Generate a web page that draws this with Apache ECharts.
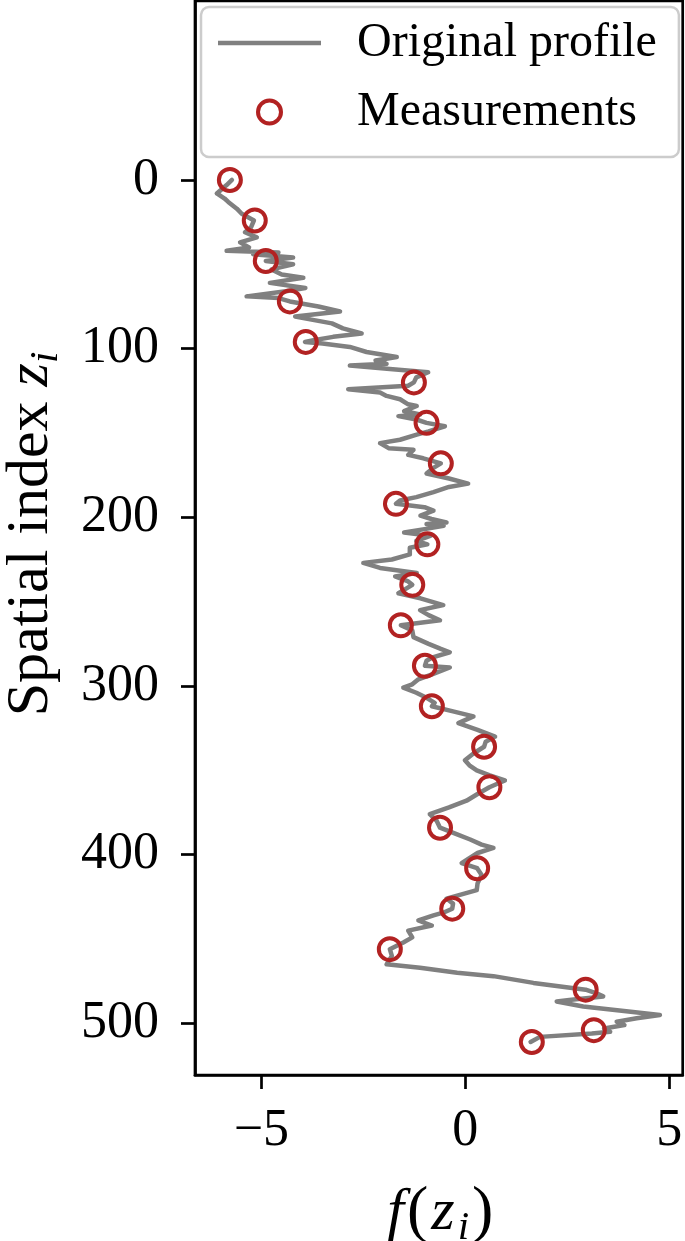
<!DOCTYPE html>
<html>
<head>
<meta charset="utf-8">
<script src="https://cdn.jsdelivr.net/npm/echarts@6/dist/echarts.min.js"></script>
<style>
  html, body { margin: 0; padding: 0; background: #fff; }
  #chart { width: 685px; height: 1241px; }
</style>
</head>
<body>
<div id="chart"></div>
<script>
// traced profile: spatial index z and value f(z)
const profileZ = [0, 3, 8, 11, 13, 17, 20, 24, 28, 31, 34, 37, 40, 42, 43, 44, 46, 48, 50, 53, 56, 58, 61, 64, 66, 69, 70, 72, 75, 78, 81, 85, 88, 91, 93, 95, 96, 97, 99, 102, 105, 107, 109, 110, 112, 114, 117, 120, 122, 124, 126, 128, 130, 133, 134, 137, 139, 140, 142, 144, 146, 149, 151, 154, 156, 159, 160, 163, 165, 168, 171, 174, 177, 180, 182, 185, 188, 190, 192, 194, 196, 199, 201, 203, 204, 205, 207, 209, 211, 214, 216, 218, 222, 225, 227, 230, 233, 235, 238, 240, 243, 245, 248, 252, 255, 258, 261, 264, 267, 271, 275, 278, 280, 283, 285, 288, 289, 293, 296, 299, 301, 304, 307, 310, 312, 315, 318, 322, 326, 330, 333, 336, 340, 344, 347, 350, 353, 356, 360, 364, 368, 372, 376, 380, 384, 388, 391, 394, 396, 399, 402, 405, 408, 412, 417, 421, 426, 429, 432, 434, 436, 439, 442, 445, 449, 452, 456, 460, 465, 467, 470, 472, 476, 480, 482, 484, 486, 487, 490, 493, 495, 497, 499, 501, 503, 505, 506, 508, 511];
const profileF = [-5.72, -5.85, -6.09, -5.90, -5.81, -5.60, -5.48, -5.18, -5.25, -5.40, -5.11, -5.52, -5.30, -5.85, -4.58, -5.20, -4.22, -4.89, -4.22, -4.75, -4.50, -3.97, -4.79, -3.92, -4.40, -5.36, -4.58, -4.30, -3.60, -3.07, -4.17, -3.27, -3.00, -2.54, -3.24, -3.72, -3.93, -3.50, -2.83, -2.42, -1.68, -2.20, -1.93, -2.83, -1.85, -0.91, -1.20, -1.26, -1.40, -2.87, -2.09, -1.93, -1.60, -1.40, -1.19, -1.50, -1.11, -1.64, -1.20, -0.95, -0.50, -0.90, -1.19, -1.60, -2.09, -1.88, -1.27, -1.40, -1.03, -0.60, -0.80, -0.95, -0.40, 0.07, -0.40, -0.78, -1.20, -1.60, -1.70, -1.00, -0.78, -1.10, -0.83, -0.46, -0.95, -0.53, -1.00, -1.50, -0.86, -1.20, -0.93, -1.36, -1.36, -1.80, -2.50, -2.09, -1.19, -1.72, -1.40, -1.30, -1.50, -1.64, -1.10, -0.54, -1.11, -0.90, -0.62, -1.58, -1.30, -1.27, -0.90, -0.60, -0.38, -0.80, -0.95, -0.99, -0.38, -0.80, -1.15, -1.30, -1.52, -1.20, -0.95, -0.75, -0.82, -0.30, 0.20, -0.17, 0.30, 0.73, 0.50, 0.46, 0.20, -0.01, 0.10, 0.28, 0.60, 0.97, 0.59, 0.30, 0.03, -0.40, -0.87, -0.70, -0.62, -0.20, 0.12, 0.40, 0.69, 0.30, 0.10, -0.09, 0.29, 0.40, 0.30, 0.28, -0.46, -0.30, -0.32, -0.50, -0.78, -1.15, -0.82, -1.40, -1.30, -1.52, -1.85, -1.80, -1.93, -1.11, -0.20, 0.69, 1.67, 2.95, 3.20, 3.38, 2.60, 2.24, 2.89, 4.00, 4.77, 4.20, 3.71, 3.90, 3.40, 3.55, 3.10, 1.83, 1.60];

// sampled measurements
const measZ = [0, 24, 48, 72, 96, 120, 144, 168, 192, 216, 240, 264, 288, 312, 336, 360, 384, 408, 432, 456, 480, 504, 511];
const measF = [-5.77, -5.16, -4.89, -4.30, -3.91, -1.26, -0.95, -0.60, -1.70, -0.93, -1.30, -1.58, -0.99, -0.82, 0.46, 0.59, -0.62, 0.29, -0.32, -1.85, 2.95, 3.15, 1.63];

const xTicks = [-5, 0, 5];
const yTicks = [0, 100, 200, 300, 400, 500];

const serif = '"Liberation Serif", "DejaVu Serif", serif';
const fmt = v => String(v).replace('-', '\u2212');

const chart = echarts.init(document.getElementById('chart'));

const axisCommon = {
  type: 'value',
  nameLocation: 'middle',
  nameMoveOverlap: false,
  axisLine: { show: true, onZero: false, lineStyle: { color: '#000', width: 2.7 } },
  axisTick: { show: true, inside: false, length: 14, lineStyle: { color: '#000', width: 2.7 } },
  splitLine: { show: false }
};

const yNameRich = {
  r: { fontFamily: serif, fontSize: 60, color: '#000', lineHeight: 72 },
  it: { fontFamily: serif, fontStyle: 'italic', fontSize: 60, color: '#000', lineHeight: 72 },
  s: { fontFamily: serif, fontStyle: 'italic', fontSize: 41, color: '#000', lineHeight: 40, verticalAlign: 'bottom' }
};
const xNameRich = {
  r: { fontFamily: serif, fontSize: 64, color: '#000', lineHeight: 72 },
  it: { fontFamily: serif, fontStyle: 'italic', fontSize: 60, color: '#000', lineHeight: 72, padding: [0, 3, 0, 3] },
  s: { fontFamily: serif, fontStyle: 'italic', fontSize: 41, color: '#000', lineHeight: 40, verticalAlign: 'bottom', padding: [0, 3, 0, 0] }
};

chart.setOption({
  animation: false,
  backgroundColor: '#fff',
  grid: {
    left: 195, top: 1, width: 487.7, height: 1074,
    show: true, borderColor: '#000', borderWidth: 2.7,
    outerBoundsMode: 'none'
  },
  xAxis: Object.assign({}, axisCommon, {
    min: -6.625, max: 5.328,
    axisTick: Object.assign({}, axisCommon.axisTick, { customValues: xTicks }),
    axisLabel: { customValues: xTicks, formatter: fmt, fontFamily: serif, fontSize: 52, color: '#000', margin: 30 },
    name: '{it|f}{r|(}{it|z}{s|i}{r|)}',
    nameGap: 102,
    nameTextStyle: { rich: xNameRich }
  }),
  yAxis: Object.assign({}, axisCommon, {
    inverse: true,
    min: -106.1, max: 530.6,
    axisTick: Object.assign({}, axisCommon.axisTick, { customValues: yTicks }),
    axisLabel: { customValues: yTicks, fontFamily: serif, fontSize: 52, color: '#000', margin: 36 },
    name: '{r|Spatial index }{it|z}{s|i}',
    nameGap: 128,
    nameTextStyle: { rich: yNameRich, padding: [0, 0, 0, 8] }
  }),
  legend: {
    orient: 'vertical',
    left: 201, top: 7,
    padding: [7, 22, 16, 17],
    itemWidth: 103, itemHeight: 23, itemGap: 11,
    backgroundColor: '#fff',
    borderColor: '#cccccc', borderWidth: 2.5, borderRadius: 8,
    textStyle: { fontFamily: serif, fontSize: 48, color: '#000', lineHeight: 58, padding: [0, 0, 0, 31] },
    data: [
      { name: 'Original profile', icon: 'path://M0,0 L103,0 L103,4.5 L0,4.5 Z', itemStyle: { color: '#808080', borderWidth: 0 } },
      { name: 'Measurements', itemStyle: { color: 'rgba(0,0,0,0)', borderColor: '#b22222', borderWidth: 4 } }
    ]
  },
  series: [
    {
      name: 'Original profile',
      type: 'line',
      data: profileZ.map((z, i) => [profileF[i], z]),
      symbol: 'none',
      lineStyle: { color: '#808080', width: 4.5, cap: 'round', join: 'round' },
      itemStyle: { color: '#808080' },
      z: 2
    },
    {
      name: 'Measurements',
      type: 'scatter',
      data: measZ.map((z, i) => [measF[i], z]),
      symbol: 'circle',
      symbolSize: 22,
      itemStyle: { color: 'rgba(0,0,0,0)', borderColor: '#b22222', borderWidth: 4, opacity: 1 },
      z: 3
    }
  ]
});
</script>
</body>
</html>
